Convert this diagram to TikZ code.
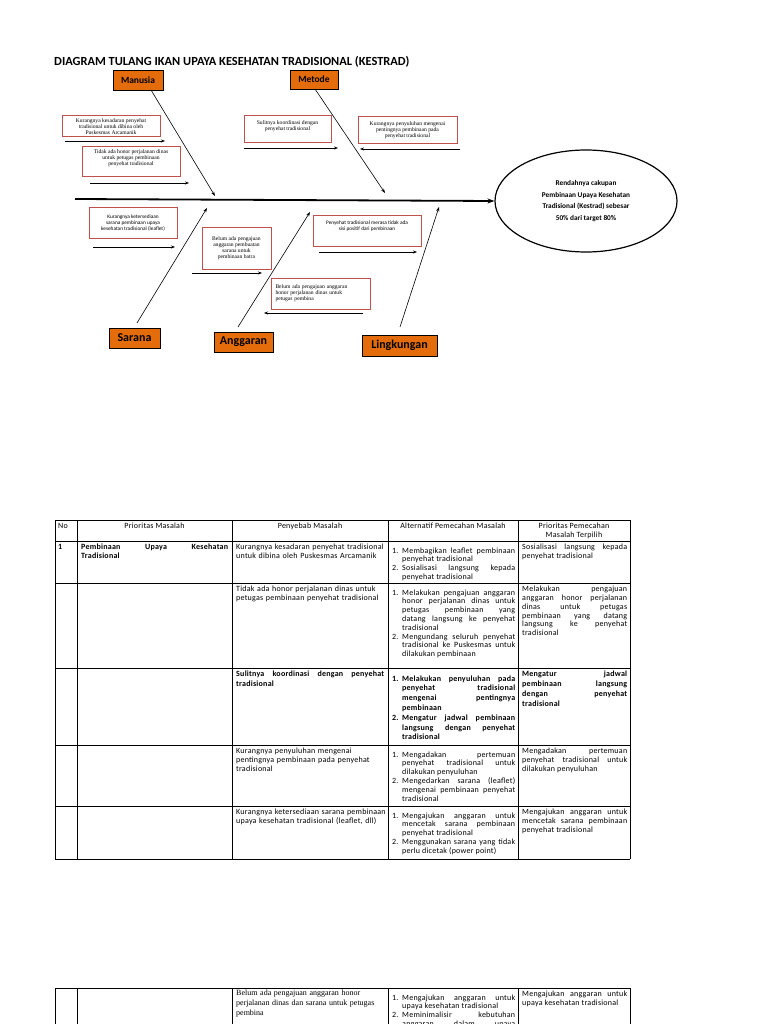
\documentclass[tikz,border=0pt]{standalone}
\usepackage{fontspec}
\setmainfont{Carlito}
\newfontfamily\serifbox{Liberation Serif}
\newfontfamily\tbl[LetterSpace=3]{Carlito}
\usetikzlibrary{arrows.meta,shapes.geometric}
\definecolor{orng}{HTML}{E46C0A}
\definecolor{rbord}{HTML}{C0504D}
\newcommand\myfs[2]{\fontsize{#1}{#2}\selectfont}
\newcommand\litem[2]{\par\hangindent=10pt\hangafter=1\noindent\makebox[10pt][l]{#1}#2\par}
\tolerance=10000
\hbadness=10000
\hfuzz=20pt
\hyphenpenalty=10000
\exhyphenpenalty=10000
\tikzset{
  arr/.style={-{Stealth[length=4pt,width=3pt]}, line width=0.6pt},
  bone/.style={-{Stealth[length=4.5pt,width=3.2pt]}, line width=0.6pt},
  lab/.style={draw=black, fill=orng, line width=0.8pt, inner sep=0pt, font=\bfseries},
  rbox/.style={draw=rbord, line width=1pt, fill=white, inner sep=1pt, align=center},
  sbox/.style={rbox, font=\serifbox\myfs{5.6}{6}},
  cbox/.style={rbox, font=\myfs{5.3}{6}},
  hdr/.style={inner sep=0pt, font=\tbl\myfs{8}{9}},
  cell/.style={anchor=north west, inner sep=0pt, font=\tbl\myfs{8}{8.8}, align=justify},
  cellL/.style={anchor=north west, inner sep=0pt, font=\tbl\myfs{8}{8.8}, align=left},
  cellB/.style={anchor=north west, inner sep=0pt, font=\tbl\bfseries\myfs{8}{9.8}, align=justify},
  tline/.style={line width=0.9pt, black}
}
\begin{document}
\begin{tikzpicture}[x=1pt,y=-1pt]
\useasboundingbox (0,0) rectangle (768,1024);
\fill[white] (0,0) rectangle (768,1024);

% title
\node[anchor=west, inner sep=0pt, font=\bfseries\myfs{12.4}{14}] (title) at (54,62) {DIAGRAM TULANG IKAN UPAYA KESEHATAN TRADISIONAL (KESTRAD)};

% category labels
\node[lab, minimum width=50pt, minimum height=20pt, font=\bfseries\myfs{9.5}{11}] (manusia) at (138,80) {Manusia};
\node[lab, minimum width=48pt, minimum height=19pt, font=\bfseries\myfs{9.5}{11}] (metode) at (314,79.5) {Metode};
\node[lab, minimum width=51pt, minimum height=20pt, font=\bfseries\myfs{12}{14}] (sarana) at (134.5,338) {Sarana};
\node[lab, minimum width=59pt, minimum height=20pt, font=\bfseries\myfs{12}{14}] (anggaran) at (243.5,342) {Anggaran};
\node[lab, minimum width=75pt, minimum height=21pt, font=\bfseries\myfs{12}{14}] (lingkungan) at (399.5,345.5) {Lingkungan};

% effect
\node[draw, ellipse, line width=1.2pt, minimum width=182pt, minimum height=102pt, align=center, font=\bfseries\myfs{7.3}{11.5}] (effect) at (586,201) {Rendahnya cakupan\\Pembinaan Upaya Kesehatan\\Tradisional (Kestrad) sebesar\\50\% dari target 80\%};

% spine
\coordinate (sp0) at (75,199);
\draw[line width=1.8pt, -{Stealth[length=7pt,width=5pt]}] (sp0) -- (effect.west);

% bones
\coordinate (m0) at (151,90);   \coordinate (m1) at (215,196);
\coordinate (t0) at (315,89);   \coordinate (t1) at (385,193);
\coordinate (s0) at (137,323);  \coordinate (s1) at (207,208);
\coordinate (g0) at (238,327);  \coordinate (g1) at (310,212);
\coordinate (l0) at (400,327);  \coordinate (l1) at (439,207);
\draw[bone] (m0) -- (m1);
\draw[bone] (t0) -- (t1);
\draw[bone] (s0) -- (s1);
\draw[bone] (g0) -- (g1);
\draw[bone] (l0) -- (l1);

% cause boxes
\node[sbox, minimum width=98pt, minimum height=21pt] (b1) at (111,126.5) {Kurangnya kesadaran penyehat\\tradisional untuk dibina oleh\\Puskesmas Arcamanik};
\node[sbox, minimum width=98pt, minimum height=30pt] (b2) at (131,162) {Tidak ada honor perjalanan dinas\\untuk petugas pembinaan\\penyehat tradisional\\[3pt]\mbox{}};
\node[sbox, minimum width=87pt, minimum height=27pt] (b3) at (287.5,129.5) {Sulitnya koordinasi dengan\\penyehat tradisional\\[2pt]\mbox{}};
\node[sbox, minimum width=99pt, minimum height=27pt] (b4) at (407.5,130.5) {Kurangnya penyuluhan mengenai\\pentingnya pembinaan pada\\penyehat tradisional};
\node[cbox, minimum width=88pt, minimum height=30pt] (b5) at (133,223) {Kurangnya ketersediaan\\sarana pembinaan upaya\\kesehatan tradisional (leaflet)};
\node[sbox, minimum width=69pt, minimum height=41pt] (b6) at (236.5,248.5) {Belum ada pengajuan\\anggaran pembuatan\\sarana untuk\\pembinaan batra};
\node[cbox, minimum width=108pt, minimum height=30pt] (b7) at (367,231) {Penyehat tradisional merasa tidak ada\\sisi positif dari pembinaan\\[4pt]\mbox{}};
\node[sbox, align=left, minimum width=99pt, minimum height=31pt, text width=90pt] (b8) at (320.5,293.5) {Belum ada pengajuan anggaran\\honor perjalanan dinas untuk\\petugas pembina};

% small arrows under boxes
\coordinate (a1s) at (65,141);  \coordinate (a1e) at (165,141);
\coordinate (a2s) at (90,183);  \coordinate (a2e) at (189,183);
\coordinate (a3s) at (244,148); \coordinate (a3e) at (338,148);
\coordinate (a4s) at (460,149); \coordinate (a4e) at (360,149);
\coordinate (a5s) at (93,247);  \coordinate (a5e) at (175,247);
\coordinate (a6s) at (192,273); \coordinate (a6e) at (262,273);
\coordinate (a7s) at (319,252); \coordinate (a7e) at (417,252);
\coordinate (a8s) at (363,313); \coordinate (a8e) at (264,313);
\foreach \i in {1,...,8} {\draw[arr] (a\i s) -- (a\i e);}

% ===== table =====
\foreach \y in {520,541,583,668,745,806,859} {\draw[tline] (55,\y) -- (630,\y);}
\foreach \x in {55,77,232,388,518,630} {\draw[tline] (\x,520) -- (\x,859);}

\node[hdr, anchor=north west] (hno) at (58,523) {No};
\node[hdr, anchor=north] (h2) at (154.5,523) {Prioritas Masalah};
\node[hdr, anchor=north] (h3) at (310,523) {Penyebab Masalah};
\node[hdr, anchor=north] (h4) at (453,523) {Alternatif Pemecahan Masalah};
\node[hdr, anchor=north, align=center] (h5) at (574,523) {Prioritas Pemecahan\\Masalah Terpilih};

% row 1
\node[cellL, font=\tbl\bfseries\myfs{8}{8.8}] (r1no) at (58,544) {1};
\node[cellB, text width=147pt, font=\tbl\bfseries\myfs{8}{8.8}] (r1c2) at (81,544) {Pembinaan Upaya Kesehatan\linebreak Tradisional};
\node[cellL, text width=154pt] (r1c3) at (236,544) {Kurangnya kesadaran penyehat tradisional\\untuk dibina oleh Puskesmas Arcamanik};
\node[cell, text width=123pt] (r1c4) at (392,544) {\litem{1.}{Membagikan leaflet pembinaan\linebreak penyehat tradisional}\litem{2.}{Sosialisasi langsung kepada\linebreak penyehat tradisional}};
\node[cell, text width=105pt] (r1c5) at (522,544) {Sosialisasi langsung kepada\linebreak penyehat tradisional};

% row 2
\node[cellL, text width=154pt] (r2c3) at (236,586) {Tidak ada honor perjalanan dinas untuk\\petugas pembinaan penyehat tradisional};
\node[cell, text width=123pt] (r2c4) at (392,586) {\litem{1.}{Melakukan pengajuan anggaran\linebreak honor perjalanan dinas untuk\linebreak petugas pembinaan yang\linebreak datang langsung ke penyehat\linebreak tradisional}\litem{2.}{Mengundang seluruh penyehat\linebreak tradisional ke Puskesmas untuk\linebreak dilakukan pembinaan}};
\node[cell, text width=105pt] (r2c5) at (522,586) {Melakukan pengajuan\linebreak anggaran honor perjalanan\linebreak dinas untuk petugas\linebreak pembinaan yang datang\linebreak langsung ke penyehat\linebreak tradisional};

% row 3
\node[cellB, text width=148pt] (r3c3) at (236,671) {Sulitnya koordinasi dengan penyehat\linebreak tradisional};
\node[cellB, text width=123pt] (r3c4) at (392,671) {\litem{1.}{Melakukan penyuluhan pada\linebreak penyehat tradisional\linebreak mengenai pentingnya\linebreak pembinaan}\litem{2.}{Mengatur jadwal pembinaan\linebreak langsung dengan penyehat\linebreak tradisional}};
\node[cellB, text width=105pt] (r3c5) at (522,671) {Mengatur jadwal\linebreak pembinaan langsung\linebreak dengan penyehat\linebreak tradisional};

% row 4
\node[cellL, text width=154pt] (r4c3) at (236,748) {Kurangnya penyuluhan mengenai\\pentingnya pembinaan pada penyehat\\tradisional};
\node[cell, text width=123pt] (r4c4) at (392,748) {\litem{1.}{Mengadakan pertemuan\linebreak penyehat tradisional untuk\linebreak dilakukan penyuluhan}\litem{2.}{Mengedarkan sarana (leaflet)\linebreak mengenai pembinaan penyehat\linebreak tradisional}};
\node[cell, text width=105pt] (r4c5) at (522,748) {Mengadakan pertemuan\linebreak penyehat tradisional untuk\linebreak dilakukan penyuluhan};

% row 5
\node[cellL, text width=154pt] (r5c3) at (236,809) {Kurangnya ketersediaan sarana pembinaan\\upaya kesehatan tradisional (leaflet, dll)};
\node[cell, text width=123pt] (r5c4) at (392,809) {\litem{1.}{Mengajukan anggaran untuk\linebreak mencetak sarana pembinaan\linebreak penyehat tradisional}\litem{2.}{Menggunakan sarana yang tidak\linebreak perlu dicetak (power point)}};
\node[cell, text width=105pt] (r5c5) at (522,809) {Mengajukan anggaran untuk\linebreak mencetak sarana pembinaan\linebreak penyehat tradisional};

% ===== second table (continues below page) =====
\draw[tline] (55,988) -- (630,988);
\foreach \x in {55,77,232,388,518,630} {\draw[tline] (\x,988) -- (\x,1030);}
\node[cellL, text width=154pt, font=\serifbox\myfs{8}{10}] (s1c3) at (236,990) {Belum ada pengajuan anggaran honor\\perjalanan dinas dan sarana untuk petugas\\pembina};
\node[cell, text width=123pt] (s1c4) at (392,991) {\litem{1.}{Mengajukan anggaran untuk\linebreak upaya kesehatan tradisional}\litem{2.}{Meminimalisir kebutuhan\linebreak anggaran dalam upaya\linebreak\mbox{}}};
\node[cell, text width=105pt] (s1c5) at (522,991) {Mengajukan anggaran untuk\linebreak upaya kesehatan tradisional};
\end{tikzpicture}
\end{document}
